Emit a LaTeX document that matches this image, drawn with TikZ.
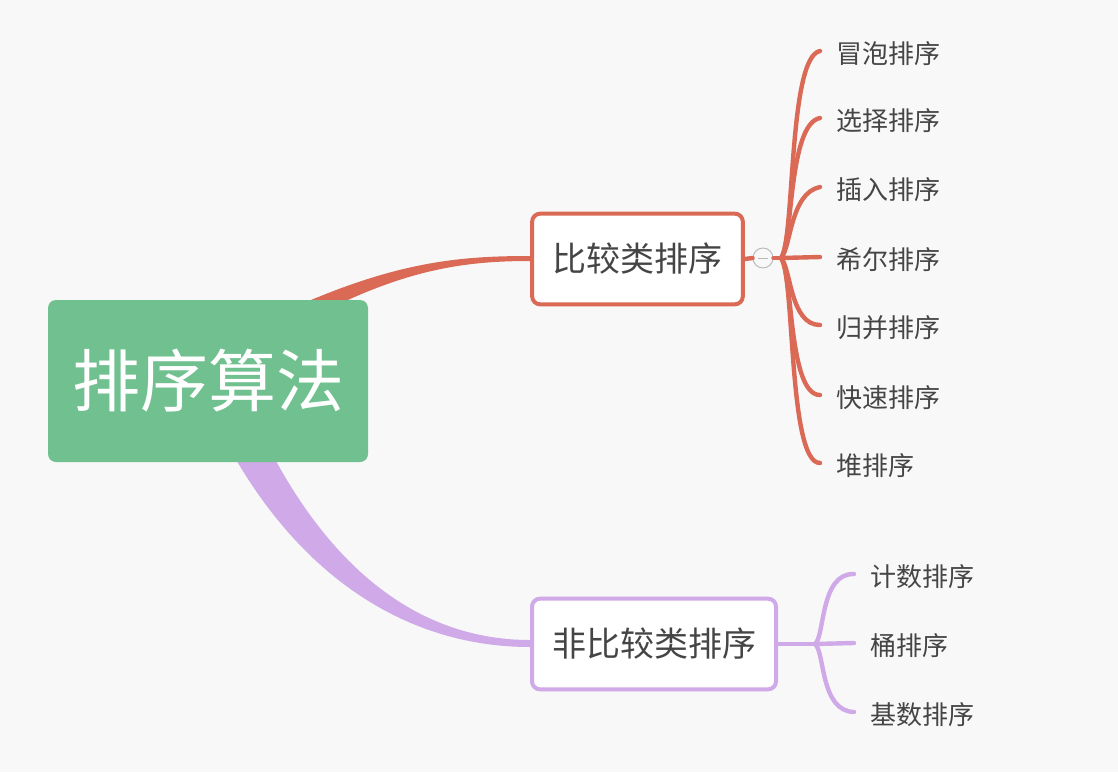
\documentclass[tikz,border=0pt]{standalone}
\usepackage{fontspec}
\setmainfont{Noto Sans CJK SC}
\usepackage{xcolor}
\usetikzlibrary{calc}
\definecolor{bgcol}{HTML}{F8F8F8}
\definecolor{rootcol}{HTML}{71C08F}
\definecolor{redcol}{HTML}{DA6A56}
\definecolor{purcol}{HTML}{CFA9E8}
\definecolor{txtcol}{HTML}{454545}
\pgfdeclarelayer{back}
\pgfsetlayers{back,main}

\begin{document}
\begin{tikzpicture}[x=0.75pt,y=-0.75pt,
  rootbox/.style={fill=rootcol, rounded corners=6pt, minimum width=240pt, minimum height=121.5pt, text=white, font=\fontsize{51}{51}\selectfont},
  midbox/.style={line width=3pt, fill=white, rounded corners=6pt, minimum height=68pt, text=txtcol, font=\fontsize{25.5}{25.5}\selectfont},
  leaf/.style={anchor=west, inner xsep=12pt, inner ysep=0pt, text=txtcol, font=\fontsize{19.5}{19.5}\selectfont},
  redline/.style={draw=redcol, line width=3.3pt, line cap=round},
  purline/.style={draw=purcol, line width=3.3pt, line cap=round}]
\useasboundingbox (0,0) rectangle (1118,772);
% узлы
\node [rootbox] (root) at (208,381) {排序算法};
\node [midbox, draw=redcol, minimum width=158pt] (cmp) at (637.5,259) {比较类排序};
\node [midbox, draw=purcol, minimum width=183pt] (ncmp) at (654,644) {非比较类排序};
\node [circle, draw=gray!55, fill=bgcol, line width=0.7pt, minimum size=15pt, inner sep=0pt] (fold) at (763,258) {};
\draw [gray!55, line width=0.7pt] ([xshift=-3.5pt]fold.center) -- ([xshift=3.5pt]fold.center);
% листья
\node [leaf] (bubble) at (820,54) {冒泡排序};
\node [leaf] (select) at (820,121) {选择排序};
\node [leaf] (insert) at (820,190) {插入排序};
\node [leaf] (shell) at (820,260) {希尔排序};
\node [leaf] (merge) at (820,328) {归并排序};
\node [leaf] (quick) at (820,398) {快速排序};
\node [leaf] (heap) at (820,466) {堆排序};
\node [leaf] (count) at (854,577) {计数排序};
\node [leaf] (bucket) at (854,646) {桶排序};
\node [leaf] (radix) at (854,715) {基数排序};
\coordinate (fork) at (781,258);
\coordinate (pfork) at (815,644);
% ветви
\begin{pgfonlayer}{back}
\fill [bgcol] (0,0) rectangle (1118,772);
\fill [redcol] ([shift={(38,-51)}]root.center) .. controls (380,263) and (450,256) .. ([yshift=2.25pt]cmp.west)
  -- ([yshift=-1.5pt]cmp.west) .. controls (455,261) and (390,272) .. ([shift={(72,-46)}]root.center) -- cycle;
\fill [purcol] ([shift={(57,59)}]root.center) .. controls (330,570) and (420,640) .. ([yshift=3pt]ncmp.west)
  -- ([yshift=-2.25pt]ncmp.west) .. controls (410,647) and (300,580) .. ([shift={(17,59)}]root.center) -- cycle;
\end{pgfonlayer}
\draw [redline] (cmp.east) -- (fold.west);
\draw [redline] (fold.east) -- (fork);
\draw [redline] (fork) .. controls ($(fork)+(14,-18)$) and ($(bubble.west)+(-32,3)$) .. ([yshift=2.25pt]bubble.west);
\draw [redline] (fork) .. controls ($(fork)+(12,-14)$) and ($(select.west)+(-32,3)$) .. ([yshift=2.25pt]select.west);
\draw [redline] (fork) .. controls ($(fork)+(10,-10)$) and ($(insert.west)+(-30,3)$) .. ([yshift=2.25pt]insert.west);
\draw [redline] (fork) -- ([yshift=2.25pt]shell.west);
\draw [redline] (fork) .. controls ($(fork)+(10,10)$) and ($(merge.west)+(-30,-3)$) .. ([yshift=2.25pt]merge.west);
\draw [redline] (fork) .. controls ($(fork)+(12,14)$) and ($(quick.west)+(-32,-3)$) .. ([yshift=2.25pt]quick.west);
\draw [redline] (fork) .. controls ($(fork)+(14,18)$) and ($(heap.west)+(-32,-3)$) .. ([yshift=2.25pt]heap.west);
\draw [purline] (ncmp.east) -- (pfork);
\draw [purline] (pfork) .. controls ($(pfork)+(10,-8)$) and ($(count.west)+(-34,-4)$) .. ([yshift=2.25pt]count.west);
\draw [purline] (pfork) -- ([yshift=2.25pt]bucket.west);
\draw [purline] (pfork) .. controls ($(pfork)+(10,8)$) and ($(radix.west)+(-34,-4)$) .. ([yshift=2.25pt]radix.west);
\end{tikzpicture}
\end{document}
